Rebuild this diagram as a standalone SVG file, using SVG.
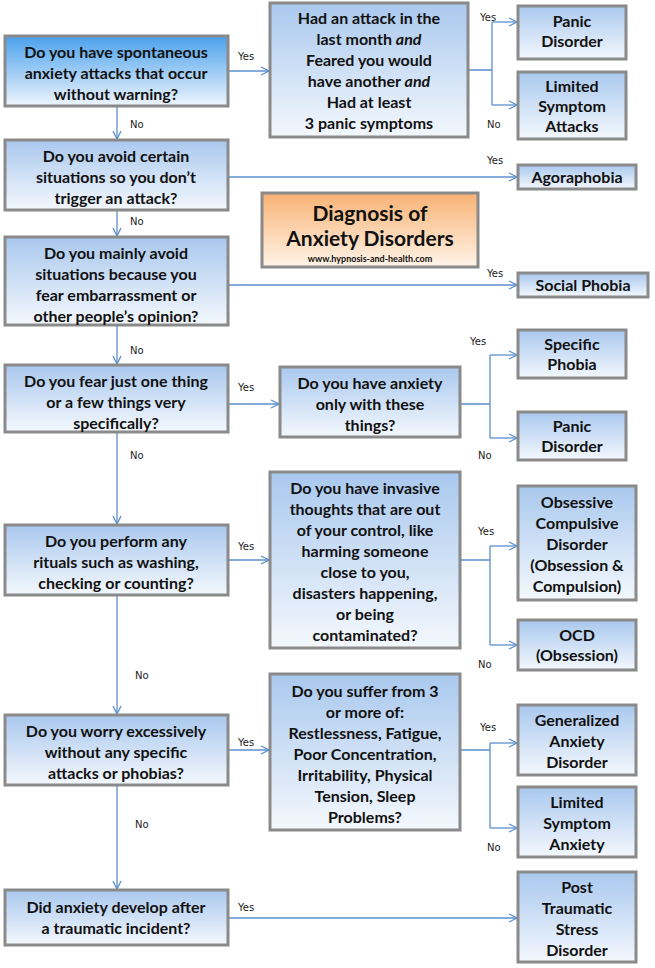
<svg xmlns="http://www.w3.org/2000/svg" width="655" height="968" viewBox="0 0 655 968">
<style>
.b{stroke:#8a8a8a;stroke-width:3;fill:url(#g)}
.t{font-family:Lato,"Open Sans",sans-serif;font-weight:bold;font-size:16px;fill:#111;text-anchor:middle}
.l{font-family:"DejaVu Sans",sans-serif;font-size:10px;fill:#222}
.c{stroke:#5b8fcf;stroke-width:1.3;fill:none}
</style>
<defs>
<linearGradient id="g" x1="0" y1="0" x2="0" y2="1"><stop offset="0" stop-color="#a9c8ee"/><stop offset="1" stop-color="#f4f8fd"/></linearGradient>
<linearGradient id="g1" x1="0" y1="0" x2="0" y2="1"><stop offset="0" stop-color="#4aa1ec"/><stop offset="1" stop-color="#eef5fd"/></linearGradient>
<linearGradient id="go" x1="0" y1="0" x2="0" y2="1"><stop offset="0" stop-color="#f8b274"/><stop offset="1" stop-color="#fff4e8"/></linearGradient>
<marker id="a" viewBox="0 0 10 10" refX="9" refY="5" markerWidth="10" markerHeight="10" orient="auto" markerUnits="userSpaceOnUse"><path d="M1 1L9 5L1 9" fill="none" stroke="#5b8fcf" stroke-width="1.3"/></marker>
</defs>
<g id="connectors">
<path class="c" d="M228 71H269" marker-end="url(#a)"/>
<path class="c" d="M468 70H492M492 22V105"/>
<path class="c" d="M492 22H517" marker-end="url(#a)"/><path class="c" d="M492 105H517" marker-end="url(#a)"/>
<path class="c" d="M228 177H517" marker-end="url(#a)"/>
<path class="c" d="M228 285H517" marker-end="url(#a)"/>
<path class="c" d="M228 404H279" marker-end="url(#a)"/>
<path class="c" d="M460 404H490M490 355V438"/>
<path class="c" d="M490 355H517" marker-end="url(#a)"/><path class="c" d="M490 438H517" marker-end="url(#a)"/>
<path class="c" d="M228 560H269" marker-end="url(#a)"/>
<path class="c" d="M460 560H490M490 546V645"/>
<path class="c" d="M490 546H517" marker-end="url(#a)"/><path class="c" d="M490 645H517" marker-end="url(#a)"/>
<path class="c" d="M228 750H269" marker-end="url(#a)"/>
<path class="c" d="M460 750H490M490 743V828"/>
<path class="c" d="M490 743H517" marker-end="url(#a)"/><path class="c" d="M490 828H517" marker-end="url(#a)"/>
<path class="c" d="M228 918H517" marker-end="url(#a)"/>
<path class="c" d="M117 106V139" marker-end="url(#a)"/>
<path class="c" d="M117 210V236" marker-end="url(#a)"/>
<path class="c" d="M117 325V364" marker-end="url(#a)"/>
<path class="c" d="M117 432V524" marker-end="url(#a)"/>
<path class="c" d="M117 595V714" marker-end="url(#a)"/>
<path class="c" d="M117 785V889" marker-end="url(#a)"/>
<g class="l">
<text x="238" y="60">Yes</text><text x="480" y="21">Yes</text><text x="487" y="128">No</text>
<text x="487" y="164">Yes</text><text x="487" y="277">Yes</text>
<text x="238" y="391">Yes</text><text x="470" y="345">Yes</text><text x="478" y="459">No</text>
<text x="238" y="550">Yes</text><text x="478" y="535">Yes</text><text x="478" y="668">No</text>
<text x="238" y="746">Yes</text><text x="480" y="731">Yes</text><text x="487" y="851">No</text>
<text x="238" y="911">Yes</text>
<text x="130" y="128">No</text><text x="130" y="225">No</text><text x="130" y="354">No</text>
<text x="130" y="459">No</text><text x="135" y="679">No</text><text x="135" y="828">No</text>
</g>
</g>
<g id="q1"><rect x="5" y="36" width="223" height="70" class="b" style="fill:url(#g1)"/><text class="t" x="116" y="58">Do you have spontaneous<tspan x="116" dy="21">anxiety attacks that occur</tspan><tspan x="116" dy="21">without warning?</tspan></text></g>
<g id="attack"><rect x="270" y="3" width="198" height="134" class="b"/><text class="t" x="369" y="24">Had an attack in the<tspan x="369" dy="21">last month <tspan font-style="italic">and</tspan></tspan><tspan x="369" dy="21">Feared you would</tspan><tspan x="369" dy="21">have another <tspan font-style="italic">and</tspan></tspan><tspan x="369" dy="21">Had at least</tspan><tspan x="369" dy="21">3 panic symptoms</tspan></text></g>
<g id="panic1"><rect x="518" y="6" width="108" height="53" class="b"/><text class="t" x="572" y="27">Panic<tspan x="572" dy="20">Disorder</tspan></text></g>
<g id="lsa1"><rect x="518" y="72" width="108" height="67" class="b"/><text class="t" x="572" y="92">Limited<tspan x="572" dy="20">Symptom</tspan><tspan x="572" dy="20">Attacks</tspan></text></g>
<g id="q2"><rect x="5" y="140" width="223" height="70" class="b"/><text class="t" x="116" y="162">Do you avoid certain<tspan x="116" dy="21">situations so you don’t</tspan><tspan x="116" dy="21">trigger an attack?</tspan></text></g>
<g id="agora"><rect x="518" y="165" width="118" height="24" class="b"/><text class="t" x="577" y="183">Agoraphobia</text></g>
<g id="title"><rect x="262" y="193" width="216" height="74" class="b" style="fill:url(#go)"/><text class="t" x="370" y="221" style="font-size:21px">Diagnosis of<tspan x="370" dy="25">Anxiety Disorders</tspan></text><text class="t" x="370" y="262" style="font-size:9px">www.hypnosis-and-health.com</text></g>
<g id="q3"><rect x="5" y="237" width="223" height="88" class="b"/><text class="t" x="116" y="259">Do you mainly avoid<tspan x="116" dy="21">situations because you</tspan><tspan x="116" dy="21">fear embarrassment or</tspan><tspan x="116" dy="21">other people’s opinion?</tspan></text></g>
<g id="social"><rect x="518" y="273" width="130" height="24" class="b"/><text class="t" x="583" y="291">Social Phobia</text></g>
<g id="q4"><rect x="5" y="365" width="223" height="67" class="b"/><text class="t" x="116" y="387">Do you fear just one thing<tspan x="116" dy="21">or a few things very</tspan><tspan x="116" dy="21">specifically?</tspan></text></g>
<g id="only"><rect x="280" y="367" width="180" height="70" class="b"/><text class="t" x="370" y="389">Do you have anxiety<tspan x="370" dy="21">only with these</tspan><tspan x="370" dy="21">things?</tspan></text></g>
<g id="specific"><rect x="518" y="330" width="108" height="48" class="b"/><text class="t" x="572" y="350">Specific<tspan x="572" dy="20">Phobia</tspan></text></g>
<g id="panic2"><rect x="518" y="412" width="108" height="48" class="b"/><text class="t" x="572" y="432">Panic<tspan x="572" dy="20">Disorder</tspan></text></g>
<g id="q5"><rect x="5" y="525" width="223" height="70" class="b"/><text class="t" x="116" y="547">Do you perform any<tspan x="116" dy="21">rituals such as washing,</tspan><tspan x="116" dy="21">checking or counting?</tspan></text></g>
<g id="invasive"><rect x="270" y="472" width="190" height="176" class="b"/><text class="t" x="365" y="494">Do you have invasive<tspan x="365" dy="21">thoughts that are out</tspan><tspan x="365" dy="21">of your control, like</tspan><tspan x="365" dy="21">harming someone</tspan><tspan x="365" dy="21">close to you,</tspan><tspan x="365" dy="21">disasters happening,</tspan><tspan x="365" dy="21">or being</tspan><tspan x="365" dy="21">contaminated?</tspan></text></g>
<g id="ocd1"><rect x="518" y="486" width="118" height="114" class="b"/><text class="t" x="577" y="508">Obsessive<tspan x="577" dy="21">Compulsive</tspan><tspan x="577" dy="21">Disorder</tspan><tspan x="577" dy="21">(Obsession &amp;</tspan><tspan x="577" dy="21">Compulsion)</tspan></text></g>
<g id="ocd2"><rect x="518" y="620" width="118" height="50" class="b"/><text class="t" x="577" y="641">OCD<tspan x="577" dy="20">(Obsession)</tspan></text></g>
<g id="q6"><rect x="5" y="715" width="223" height="70" class="b"/><text class="t" x="116" y="737">Do you worry excessively<tspan x="116" dy="21">without  any specific</tspan><tspan x="116" dy="21">attacks or phobias?</tspan></text></g>
<g id="suffer"><rect x="270" y="674" width="190" height="156" class="b"/><text class="t" x="365" y="697">Do you suffer from 3<tspan x="365" dy="21">or more of:</tspan><tspan x="365" dy="21">Restlessness, Fatigue,</tspan><tspan x="365" dy="21">Poor Concentration,</tspan><tspan x="365" dy="21">Irritability, Physical</tspan><tspan x="365" dy="21">Tension, Sleep</tspan><tspan x="365" dy="21">Problems?</tspan></text></g>
<g id="gad"><rect x="518" y="705" width="118" height="70" class="b"/><text class="t" x="577" y="726">Generalized<tspan x="577" dy="21">Anxiety</tspan><tspan x="577" dy="21">Disorder</tspan></text></g>
<g id="lsa2"><rect x="518" y="787" width="118" height="70" class="b"/><text class="t" x="577" y="808">Limited<tspan x="577" dy="21">Symptom</tspan><tspan x="577" dy="21">Anxiety</tspan></text></g>
<g id="q7"><rect x="5" y="890" width="223" height="55" class="b"/><text class="t" x="116" y="913">Did anxiety develop after<tspan x="116" dy="21">a traumatic incident?</tspan></text></g>
<g id="ptsd"><rect x="518" y="872" width="118" height="90" class="b"/><text class="t" x="577" y="893">Post<tspan x="577" dy="21">Traumatic</tspan><tspan x="577" dy="21">Stress</tspan><tspan x="577" dy="21">Disorder</tspan></text></g>
</svg>
